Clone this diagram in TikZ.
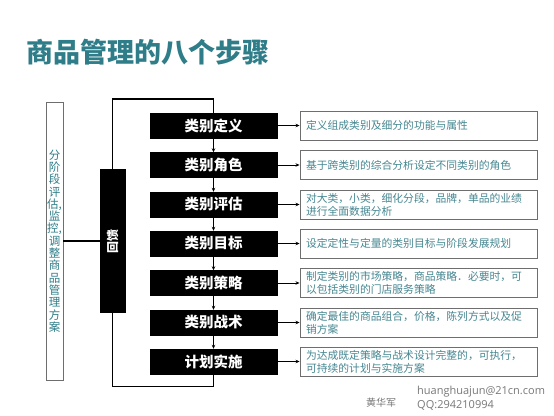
\documentclass[tikz,border=0pt]{standalone}
\usepackage{fontspec}
\setmainfont{Noto Sans CJK SC}
\newfontfamily\latinfont{Open Sans}
\usetikzlibrary{arrows.meta}
\definecolor{teal1}{RGB}{46,125,136}
\definecolor{desctxt}{RGB}{70,135,145}
\definecolor{boxgray}{RGB}{110,110,110}
\definecolor{foot}{RGB}{120,120,120}
\tikzset{
  stepbox/.style={fill=black, draw=black, minimum width=127pt, minimum height=25pt, inner sep=0pt,
    text=white, font=\bfseries\fontsize{14.5}{15}\selectfont},
  descbox/.style={draw=boxgray, line width=0.9pt, minimum height=29pt, text width=225pt, inner xsep=6pt,
    inner ysep=1pt, align=left, text=desctxt, font=\fontsize{10.8}{13}\selectfont},
  fbbox/.style={fill=black, draw=black, minimum width=25pt, minimum height=143pt, inner sep=0pt},
  leftbox/.style={draw=boxgray, line width=0.9pt, minimum width=17pt, minimum height=278pt, inner sep=0pt,
    align=center, text=teal1, font=\fontsize{11.5}{12.3}\selectfont},
  loopline/.style={line width=1.4pt, black},
  flowarrow/.style={line width=0.9pt, black, -{Stealth[length=4pt,width=3.5pt]}},
  tipline/.style={line width=1.4pt, black, -{Stealth[length=5pt,width=4.5pt]}},
  foottext/.style={text=foot, inner sep=0pt}
}
\begin{document}
\begin{tikzpicture}[x=1pt,y=-1pt]
\useasboundingbox (0,0) rectangle (554,415);
\fill[white] (0,0) rectangle (554,415);
\node[anchor=west, inner sep=0pt, text=teal1, font=\bfseries\fontsize{27}{28}\selectfont] (title) at (26,52) {商品管理的八个步骤};

% left box
\node[leftbox] (lb) at (54.5,241) {分\\阶\\段\\评\\估,\\监\\控,\\调\\整\\商\\品\\管\\理\\方\\案};
% feedback box
\node[fbbox] (fb) at (112.5,241) {};
\node[rotate=90, text=white, inner sep=0pt, font=\bfseries\fontsize{12}{12}\selectfont] (fbt) at (fb.center) {回馈};

% steps
\node[stepbox] (s1) at (213.5,125.5) {类别定义};
\node[stepbox] (s2) at (213.5,165) {类别角色};
\node[stepbox] (s3) at (213.5,204.5) {类别评估};
\node[stepbox] (s4) at (213.5,243.5) {类别目标};
\node[stepbox] (s5) at (213.5,283) {类别策略};
\node[stepbox] (s6) at (213.5,322.5) {类别战术};
\node[stepbox] (s7) at (213.5,361.5) {计划实施};

% descriptions
\node[descbox] (d1) at (418.5,125.5) {定义组成类别及细分的功能与属性};
\node[descbox] (d2) at (418.5,165) {基于跨类别的综合分析设定不同类别的角色};
\node[descbox] (d3) at (418.5,204.5) {对大类，小类，细化分段，品牌，单品的业绩\\进行全面数据分析};
\node[descbox] (d4) at (418.5,243.5) {设定定性与定量的类别目标与阶段发展规划};
\node[descbox] (d5) at (418.5,283) {制定类别的市场策略，商品策略．必要时，可\\以包括类别的门店服务策略};
\node[descbox] (d6) at (418.5,322.5) {确定最佳的商品组合，价格，陈列方式以及促\\销方案};
\node[descbox] (d7) at (418.5,361.5) {为达成既定策略与战术设计完整的，可执行，\\可持续的计划与实施方案};

% vertical flow
\foreach \a/\b in {s1/s2,s2/s3,s3/s4,s4/s5,s5/s6,s6/s7}
  \draw[flowarrow] (\a.south) -- (\b.north);
% horizontal arrows
\foreach \i in {1,...,7}
  \draw[flowarrow] (s\i.east) -- (d\i.west);

% loop
\draw[loopline] (fb.north) -- ++(0,-70.5) coordinate (ltop) -| (s1.north);
\draw[flowarrow] ([yshift=-6pt]s1.north) -- (s1.north);
\draw[loopline] (s7.south) -- ++(0,12.5) coordinate (lbot) -| ([yshift=6pt]fb.south);
\draw[tipline] ([yshift=7pt]fb.south) -- (fb.south);
\draw[loopline] (lb.east) -- (fb.west);

% footer
\node[foottext, font=\fontsize{10}{10}\selectfont] (auth) at (381,403) {黄华军};
\node[foottext, anchor=west, font=\latinfont\fontsize{11}{11}\selectfont] (mail) at (417,392) {huanghuajun@21cn.com};
\node[foottext, anchor=west, font=\latinfont\fontsize{11}{11}\selectfont] (qq) at (417,405) {QQ:294210994};
\end{tikzpicture}
\end{document}
